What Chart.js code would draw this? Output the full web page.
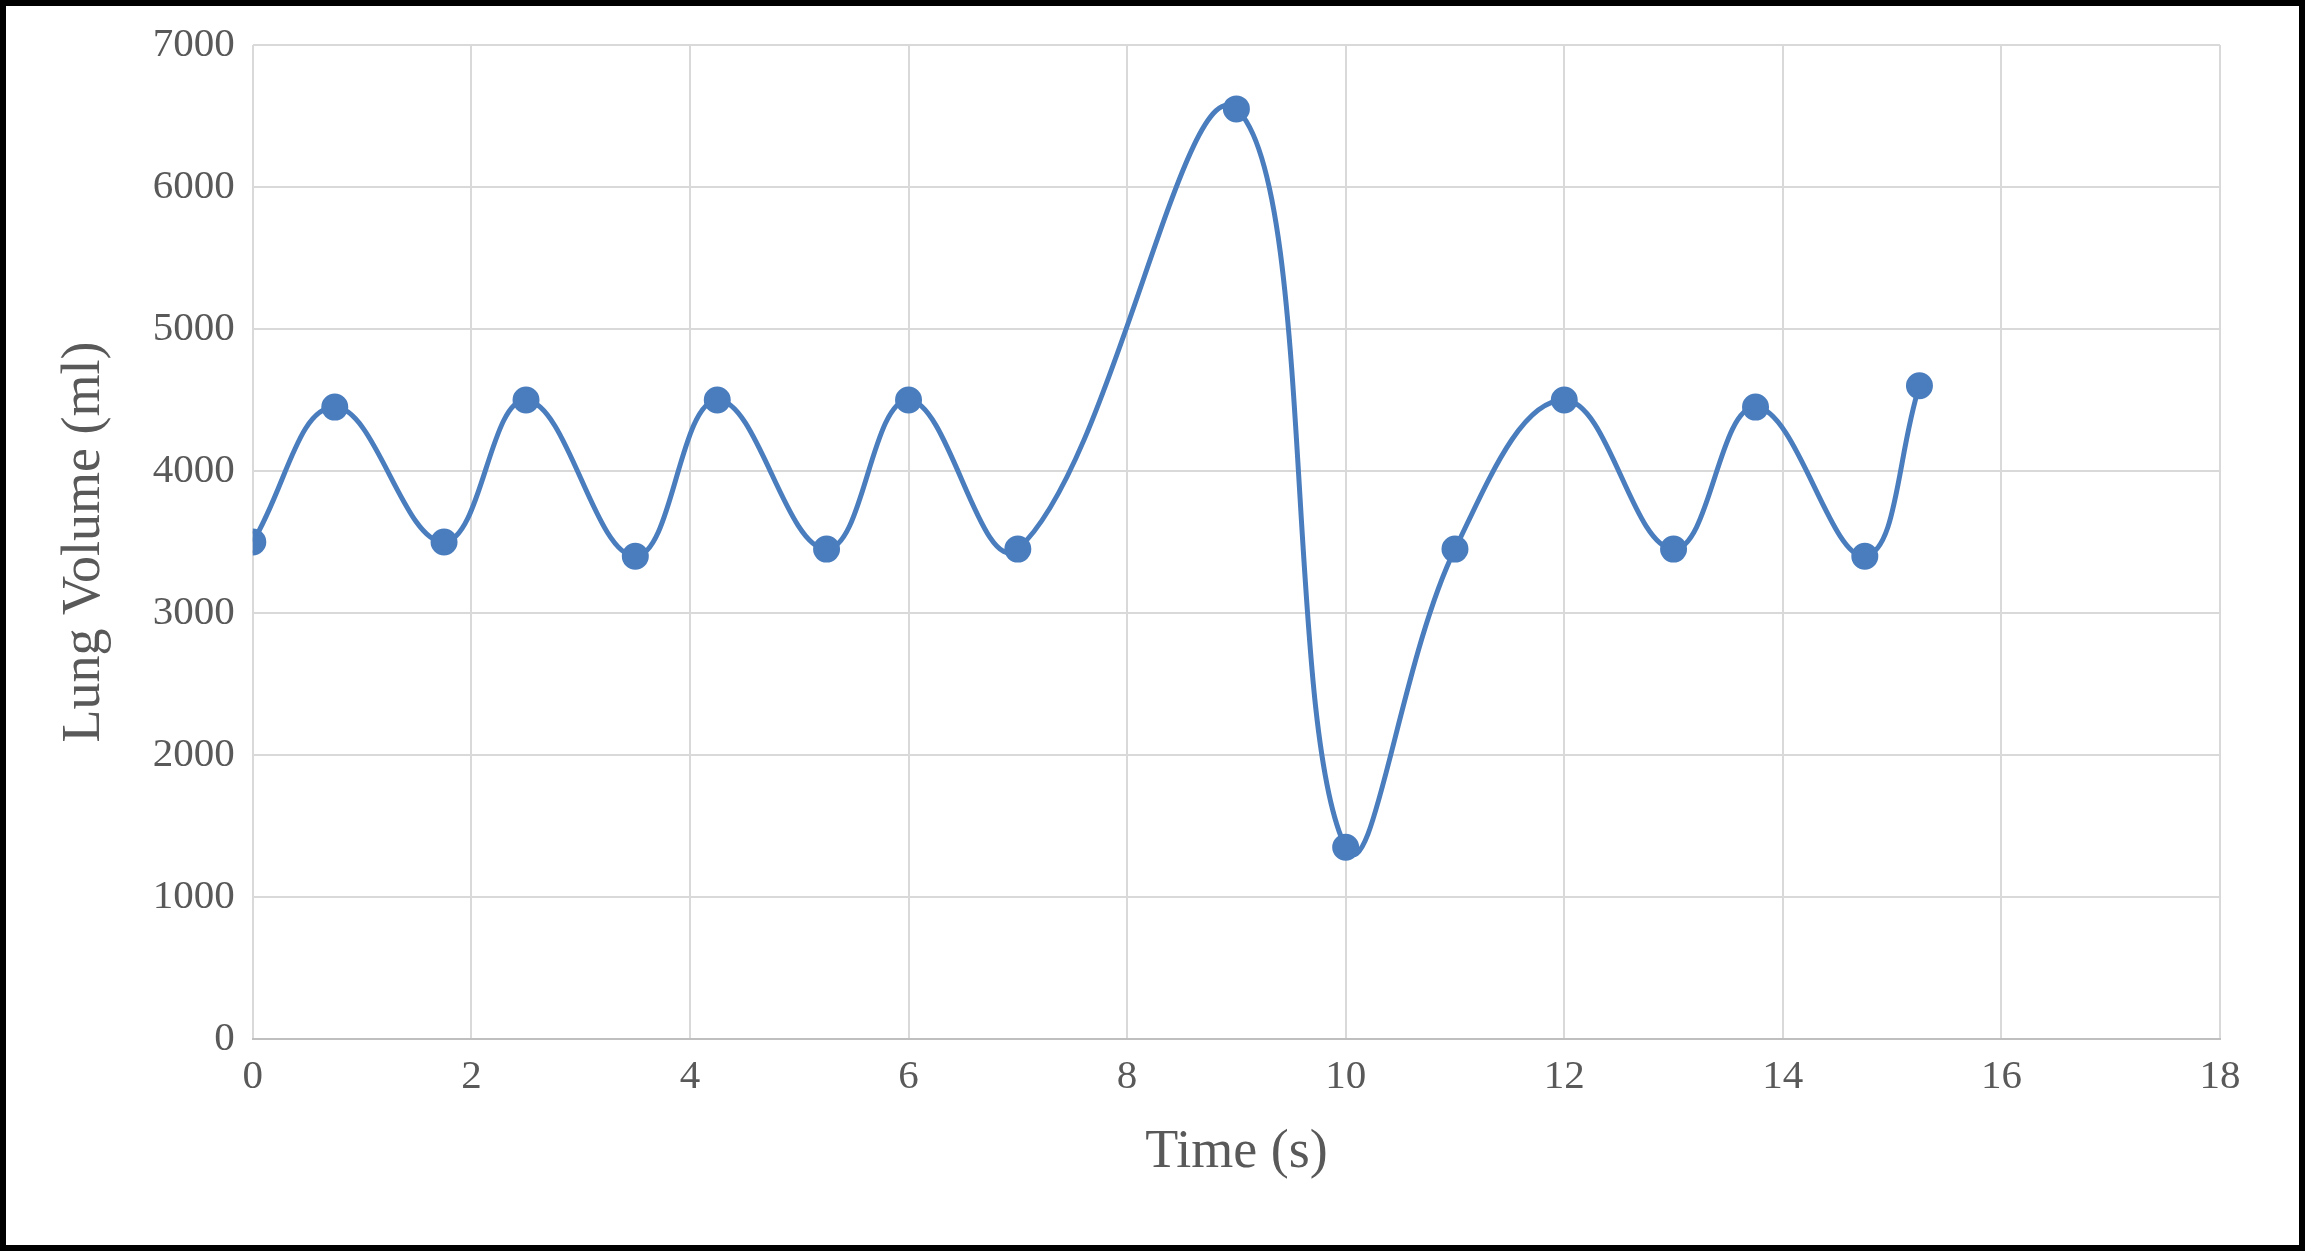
<!DOCTYPE html>
<html><head><meta charset="utf-8">
<script src="https://cdn.jsdelivr.net/npm/chart.js@4"></script>
<style>html,body{margin:0;padding:0;background:#fff;}
#wrap{position:absolute;left:0;top:0;width:2305px;height:1251px;box-sizing:border-box;border:6px solid #000;}
canvas{position:absolute;left:0;top:0;}</style></head>
<body><div id="wrap"></div><canvas id="c" width="2305" height="1251"></canvas>
<script>
const times=[0,0.75,1.75,2.5,3.5,4.25,5.25,6,7,9,10,11,12,13,13.75,14.75,15.25];
const volumes=[3500,4450,3500,4500,3400,4500,3450,4500,3450,6550,1350,3450,4500,3450,4450,3400,4600];
const xTicks=[0,2,4,6,8,10,12,14,16,18];
const yTicks=[0,1000,2000,3000,4000,5000,6000,7000];
const col='#4a7dbe';
new Chart(document.getElementById('c'),{type:'scatter',
data:{datasets:[{data:times.map((t,i)=>({x:t,y:volumes[i]})),showLine:true,tension:0.4,cubicInterpolationMode:'default',borderColor:col,backgroundColor:col,borderWidth:5,pointRadius:11,pointHoverRadius:11}]},
options:{responsive:false,animation:false,devicePixelRatio:1,
layout:{padding:{left:48,right:85,top:45,bottom:62}},
plugins:{legend:{display:false},tooltip:{enabled:false}},
scales:{
x:{min:0,max:18,afterBuildTicks:a=>{a.ticks=xTicks.map(v=>({value:v}));},
 grid:{color:'#d9d9d9',lineWidth:2,drawTicks:false},border:{color:'#bfbfbf',width:2},
 ticks:{color:'#595959',font:{family:'Liberation Serif',size:41},padding:14},
 title:{display:true,text:'Time (s)',color:'#595959',font:{family:'Liberation Serif',size:54},padding:{top:4}}},
y:{min:0,max:7000,afterBuildTicks:a=>{a.ticks=yTicks.map(v=>({value:v}));},
 grid:{color:'#d9d9d9',lineWidth:2,drawTicks:false},border:{display:false},
 ticks:{color:'#595959',font:{family:'Liberation Serif',size:41},padding:18,callback:v=>String(v)},
 title:{display:true,text:'Lung Volume (ml)',color:'#595959',font:{family:'Liberation Serif',size:54},padding:{bottom:18}}}
}}});
</script></body></html>
